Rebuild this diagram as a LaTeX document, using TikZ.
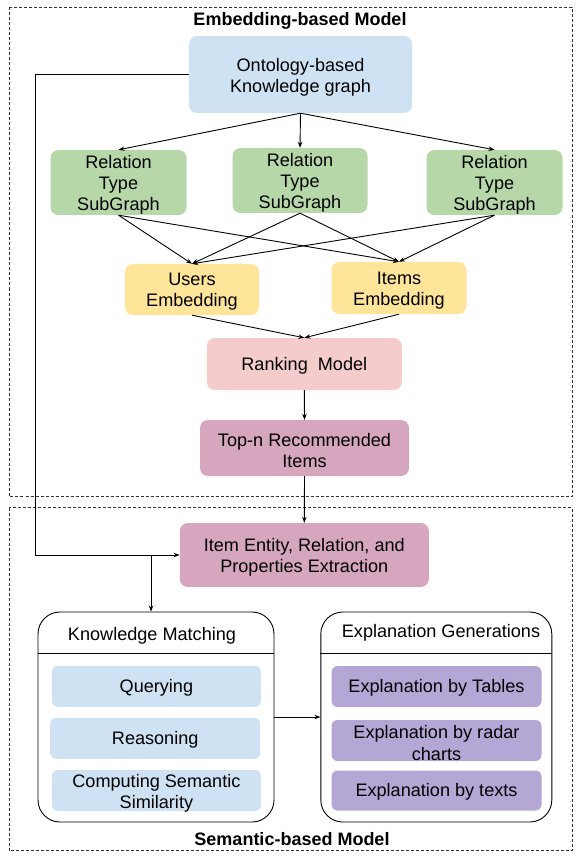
\documentclass[tikz,border=0pt]{standalone}
\usepackage{fontspec}
\setmainfont{Liberation Sans}
\usetikzlibrary{arrows.meta}
\definecolor{cblue}{HTML}{CFE2F3}
\definecolor{cgreen}{HTML}{B6D7A8}
\definecolor{cyellow}{HTML}{FFE599}
\definecolor{cpink}{HTML}{F4CCCC}
\definecolor{cmauve}{HTML}{D5A6BD}
\definecolor{cpurple}{HTML}{B4A7D6}
\definecolor{cdash}{HTML}{333333}
\tikzset{
  box/.style={rounded corners=8pt, inner sep=0pt},
  inbox/.style={rounded corners=6pt, inner sep=0pt, minimum height=41pt},
  txt/.style={inner sep=0pt, align=center, text=black},
  container/.style={draw=black, line width=0.9pt, rounded corners=22pt, inner sep=0pt},
  arr/.style={draw=black, line width=0.9pt, -{Stealth[length=6pt,width=4.5pt]}},
  plain/.style={draw=black, line width=0.9pt},
  dashbox/.style={draw=cdash, line width=0.9pt, dash pattern=on 3pt off 2pt},
  ttl/.style={font=\fontsize{18}{21.3}\selectfont\bfseries, inner sep=0pt}
}
\begin{document}
\begin{tikzpicture}[x=1pt,y=-1pt,font=\fontsize{18.1}{21.3}\selectfont]
\useasboundingbox (0,0) rectangle (581,858);
% dashed regions
\draw[dashbox] (9,7.5) rectangle (572,496);
\draw[dashbox] (9,507.5) rectangle (572,850.5);
\node[ttl] (t1) at (300,20.5) {Embedding-based Model};
\node[ttl] (t2) at (292,839) {Semantic-based Model};
% embedding part boxes
\node[box, fill=cblue, minimum width=223pt, minimum height=77pt] (ont) at (300.5,74.5) {};
\node[box, fill=cgreen, minimum width=136pt, minimum height=65pt] (r1) at (118.5,182.5) {};
\node[box, fill=cgreen, minimum width=135pt, minimum height=65pt] (r2) at (300,180.5) {};
\node[box, fill=cgreen, minimum width=136pt, minimum height=65pt] (r3) at (494.5,182.5) {};
\node[box, fill=cyellow, minimum width=134pt, minimum height=51pt] (users) at (192,289.5) {};
\node[box, fill=cyellow, minimum width=135pt, minimum height=52pt] (items) at (399,288) {};
\node[box, fill=cpink, minimum width=195pt, minimum height=52pt] (rank) at (304.3,364) {};
\node[box, fill=cmauve, minimum width=209pt, minimum height=56pt] (topn) at (304.5,448) {};
\node[box, fill=cmauve, minimum width=249pt, minimum height=64pt] (ie) at (304.3,555) {};
% embedding part texts
\node[txt] (ont-t) at ([yshift=-2.5pt]ont.center) {Ontology-based\\Knowledge graph};
\node[txt] (r1-t) at ([yshift=-2.5pt]r1.center) {Relation\\Type\\SubGraph};
\node[txt] (r2-t) at ([yshift=-2.5pt]r2.center) {Relation\\Type\\SubGraph};
\node[txt] (r3-t) at ([yshift=-2.5pt]r3.center) {Relation\\Type\\SubGraph};
\node[txt] (users-t) at ([yshift=-2.5pt]users.center) {Users\\Embedding};
\node[txt] (items-t) at ([yshift=-2.5pt]items.center) {Items\\Embedding};
\node[txt] (rank-t) at ([yshift=-1.5pt]rank.center) {Ranking~~Model};
\node[txt] (topn-t) at ([yshift=-2.5pt]topn.center) {Top-n Recommended\\Items};
\node[txt] (ie-t) at ([yshift=-2.5pt]ie.center) {Item Entity, Relation, and\\Properties Extraction};
% semantic part
\node[container, minimum width=236pt, minimum height=210pt] (km) at (156,717) {};
\node[container, minimum width=231pt, minimum height=210pt] (ex) at (436.3,717) {};
\draw[plain] ([yshift=-42pt]km.north west) -- ([yshift=-42pt]km.north east);
\draw[plain] ([yshift=-42pt]ex.north west) -- ([yshift=-42pt]ex.north east);
\node[txt] (kmh) at (152,635.5) {Knowledge Matching};
\node[txt] (exh) at (441,632.5) {Explanation Generations};
\node[inbox, fill=cblue, minimum width=209pt] (q) at (156.4,686.3) {};
\node[inbox, fill=cblue, minimum width=210pt] (rs) at (155.2,738.4) {};
\node[inbox, fill=cblue, minimum width=209pt] (cs) at (156.4,790.5) {};
\node[inbox, fill=cpurple, minimum width=210pt] (et) at (436.5,686.5) {};
\node[inbox, fill=cpurple, minimum width=210pt] (er) at (436.5,740.5) {};
\node[inbox, fill=cpurple, minimum width=210pt, minimum height=40pt] (ex3) at (436.5,790.5) {};
\node[txt] (q-t) at ([yshift=-1.5pt]q.center) {Querying};
\node[txt] (rs-t) at ([yshift=-1.5pt]rs.center) {Reasoning};
\node[txt] (cs-t) at ([yshift=-2.5pt]cs.center) {Computing Semantic\\Similarity};
\node[txt] (et-t) at ([yshift=-1.5pt]et.center) {Explanation by Tables};
\node[txt] (er-t) at ([yshift=-2.5pt]er.center) {Explanation by radar\\charts};
\node[txt] (ex3-t) at ([yshift=-1.5pt]ex3.center) {Explanation by texts};
% connectors
\draw[arr] (ont.south) -- (r1.north);
\draw[arr] (ont.south) -- (r2.north);
\draw[arr] (ont.south) -- (r3.north);
\foreach \r in {r1,r2,r3}{
  \draw[arr] (\r.south) -- (users.north);
  \draw[arr] (\r.south) -- (items.north);
}
\draw[arr] (users.south) -- (rank.north);
\draw[arr] (items.south) -- (rank.north);
\draw[arr] (rank.south) -- (topn.north);
\draw[arr] (topn.south) -- (ie.north);
\coordinate (c1) at (35,74.5);
\coordinate (c2) at (35,555);
\coordinate (j) at (151,555);
\draw[arr] (ont.west) -- (c1) -- (c2) -- (ie.west);
\draw[arr] (j) -- (j |- km.north);
\draw[arr] (km.east) -- (ex.west);
\end{tikzpicture}
\end{document}
